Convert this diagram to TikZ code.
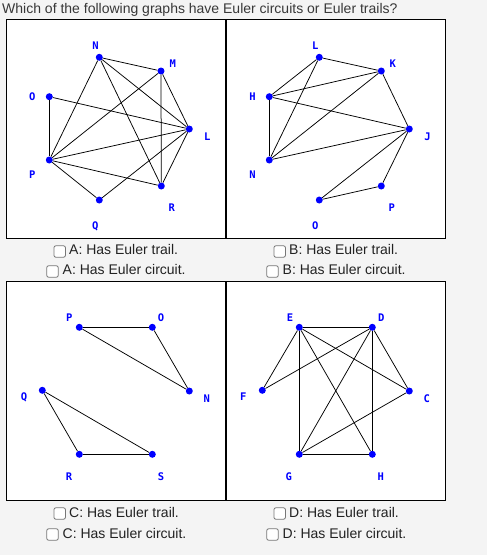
\documentclass[tikz,border=0pt]{standalone}
\usepackage{fontspec}
\setmainfont{Liberation Sans}
\newfontfamily\lblfont{DejaVu Sans Mono}
\definecolor{vblue}{RGB}{0,0,255}
\definecolor{bggray}{RGB}{244,244,244}
\definecolor{txtc}{RGB}{34,34,34}
\definecolor{cbgray}{RGB}{118,118,118}
\begin{document}
\begin{tikzpicture}[x=1pt,y=-1pt,
  vtx/.style={circle,fill=vblue,inner sep=0pt,minimum size=7pt},
  lbl/.style={font=\lblfont\bfseries\fontsize{10.5}{10.5}\selectfont,text=vblue,inner sep=0pt},
  edge/.style={draw=black,line width=0.75pt},
  panel/.style={draw=black,fill=white,line width=1pt},
  cbox/.style={draw=cbgray,fill=white,rounded corners=2pt,minimum size=11.5pt,inner sep=0pt,line width=0.8pt},
  opt/.style={font=\fontsize{14}{14}\selectfont,text=txtc,anchor=base west,inner sep=0pt},
  ttl/.style={font=\fontsize{14}{14}\selectfont,text=txtc!90!white,anchor=base west,inner sep=0pt}]
\fill[bggray] (0,0) rectangle (487,555);
\useasboundingbox (0,0) rectangle (487,555);
\node[ttl] (title) at (2,13.3) {Which of the following graphs have Euler circuits or Euler trails?};
% panels
\draw[panel] (6.5,19.5) rectangle (225.5,238);
\draw[panel] (226.5,19.5) rectangle (445.5,238);
\draw[panel] (6.5,281.5) rectangle (225.5,500);
\draw[panel] (226.5,281.5) rectangle (445.5,500);
% ---------- Graph A ----------
\node[vtx] (aN) at (99.3,57.3) {};
\node[vtx] (aM) at (161,71) {};
\node[vtx] (aO) at (49.3,96.7) {};
\node[vtx] (aL) at (189.3,129) {};
\node[vtx] (aP) at (49.3,160) {};
\node[vtx] (aQ) at (99.3,200) {};
\node[vtx] (aR) at (161.3,186) {};
\node[lbl] (aNl) at (95.5,45.8) {N};
\node[lbl] (aMl) at (172.7,63.7) {M};
\node[lbl] (aOl) at (32.3,96.7) {O};
\node[lbl] (aLl) at (207.2,136.7) {L};
\node[lbl] (aPl) at (32.3,174.7) {P};
\node[lbl] (aQl) at (95.3,226.3) {Q};
\node[lbl] (aRl) at (171.7,207.5) {R};
\foreach \u/\v in {aN/aM,aN/aL,aN/aR,aN/aP,aM/aL,aM/aR,aM/aP,aO/aL,aO/aP,aL/aP,aL/aR,aL/aQ,aP/aR,aP/aQ}
  \draw[edge] (\u) -- (\v);
% ---------- Graph B ----------
\node[vtx] (bL) at (319.3,57.3) {};
\node[vtx] (bK) at (381.3,71) {};
\node[vtx] (bH) at (269.3,96.7) {};
\node[vtx] (bJ) at (409.3,129) {};
\node[vtx] (bN) at (269.3,160) {};
\node[vtx] (bO) at (319.3,200) {};
\node[vtx] (bP) at (381.3,186) {};
\node[lbl] (bLl) at (315.3,45.8) {L};
\node[lbl] (bKl) at (392.7,63.7) {K};
\node[lbl] (bHl) at (252.5,96.7) {H};
\node[lbl] (bJl) at (427.5,136.7) {J};
\node[lbl] (bNl) at (252.5,175) {N};
\node[lbl] (bOl) at (315.3,225.5) {O};
\node[lbl] (bPl) at (391.7,207.5) {P};
\foreach \u/\v in {bL/bK,bL/bH,bL/bN,bK/bH,bK/bN,bK/bJ,bH/bJ,bH/bN,bN/bJ,bJ/bO,bJ/bP,bO/bP}
  \draw[edge] (\u) -- (\v);
% ---------- Graph C ----------
\node[vtx] (cP) at (79.3,327.3) {};
\node[vtx] (cO) at (152.3,327.3) {};
\node[vtx] (cN) at (189.3,391) {};
\node[vtx] (cQ) at (42.3,390.3) {};
\node[vtx] (cR) at (79.3,454.3) {};
\node[vtx] (cS) at (152.3,454.3) {};
\node[lbl] (cPl) at (69.3,317.7) {P};
\node[lbl] (cOl) at (161,317.7) {O};
\node[lbl] (cNl) at (206.7,398.3) {N};
\node[lbl] (cQl) at (24,397.7) {Q};
\node[lbl] (cRl) at (69,477) {R};
\node[lbl] (cSl) at (161,477) {S};
\foreach \u/\v in {cP/cO,cP/cN,cO/cN,cQ/cR,cQ/cS,cR/cS}
  \draw[edge] (\u) -- (\v);
% ---------- Graph D ----------
\node[vtx] (dE) at (299.3,327.3) {};
\node[vtx] (dD) at (372.3,327.3) {};
\node[vtx] (dF) at (262.3,390.3) {};
\node[vtx] (dC) at (409.3,391) {};
\node[vtx] (dG) at (299.3,454.3) {};
\node[vtx] (dH) at (372.3,454.3) {};
\node[lbl] (dEl) at (290,317.7) {E};
\node[lbl] (dDl) at (381.3,317.7) {D};
\node[lbl] (dFl) at (243.3,397) {F};
\node[lbl] (dCl) at (426.7,398.3) {C};
\node[lbl] (dGl) at (288.7,477) {G};
\node[lbl] (dHl) at (380.7,477) {H};
\foreach \u/\v in {dE/dD,dE/dF,dE/dG,dE/dH,dE/dC,dD/dF,dD/dG,dD/dH,dD/dC,dC/dG,dG/dH}
  \draw[edge] (\u) -- (\v);
% ---------- Options ----------
\node[cbox] (cbA1) at (59.7,251.5) {};
\node[opt] (tA1) at (69,254.5) {A: Has Euler trail.};
\node[cbox] (cbA2) at (52.5,271.5) {};
\node[opt] (tA2) at (62.5,274) {A: Has Euler circuit.};
\node[cbox] (cbB1) at (279.7,251.5) {};
\node[opt] (tB1) at (289,254.5) {B: Has Euler trail.};
\node[cbox] (cbB2) at (272.5,271.5) {};
\node[opt] (tB2) at (282.5,274) {B: Has Euler circuit.};
\node[cbox] (cbC1) at (59.7,513.5) {};
\node[opt] (tC1) at (69,517.3) {C: Has Euler trail.};
\node[cbox] (cbC2) at (52.5,534.5) {};
\node[opt] (tC2) at (62.5,538) {C: Has Euler circuit.};
\node[cbox] (cbD1) at (279.7,513.5) {};
\node[opt] (tD1) at (289,517.3) {D: Has Euler trail.};
\node[cbox] (cbD2) at (272.5,534.5) {};
\node[opt] (tD2) at (282.5,538) {D: Has Euler circuit.};
\end{tikzpicture}
\end{document}
